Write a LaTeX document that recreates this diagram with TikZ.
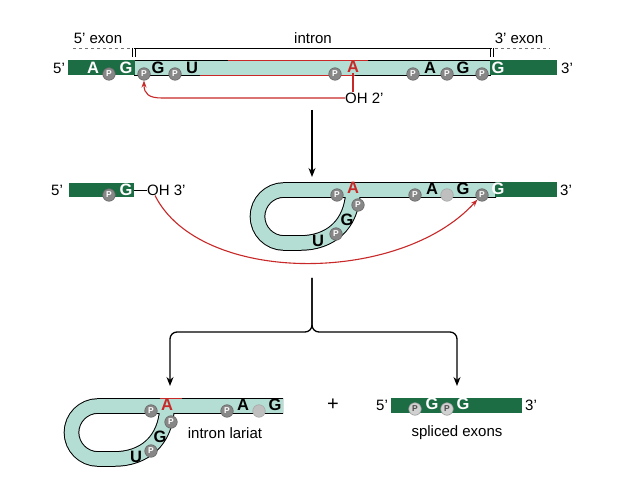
\documentclass[tikz,border=0pt]{standalone}
\usepackage{fontspec}
\setmainfont{Liberation Sans}
\usetikzlibrary{arrows.meta}
\definecolor{dkg}{RGB}{28,108,68}
\definecolor{lig}{RGB}{180,222,212}
\definecolor{rd}{RGB}{200,40,40}
\definecolor{pg}{RGB}{135,135,135}
\begin{document}
\begin{tikzpicture}[x=1pt,y=-1pt,
 lab/.style={font=\fontsize{15}{17}\selectfont, inner sep=0pt},
 wl/.style={font=\bfseries\fontsize{16.5}{17}\selectfont, text=white, inner sep=0pt},
 bl/.style={font=\bfseries\fontsize{16.5}{17}\selectfont, text=black, inner sep=0pt},
 rl/.style={font=\bfseries\fontsize{16.5}{17}\selectfont, text=rd, inner sep=0pt},
 pc/.style={circle, fill=pg, draw=black!60, line width=0.6pt, inner sep=0pt, minimum size=12.5pt, text=white, font=\bfseries\fontsize{8.5}{9}\selectfont},
 pcf/.style={pc, fill=black!25, draw=black!35},
 pcs/.style={pc, fill=black!18, draw=black!40, text=black!70},
 tube/.style={draw=black, line width=1pt, double=lig, double distance=13.6pt},
 arr/.style={line width=1.3pt, -{Stealth[length=9pt,width=7pt]}},
 rarr/.style={draw=rd, line width=1.1pt, -{Stealth[length=7pt,width=5pt]}},
 rline/.style={draw=rd, line width=0.9pt},
]
\useasboundingbox (0,0) rectangle (638,478);
\fill[white] (0,0) rectangle (638,478);

% ---------- top row ----------
\draw[line width=0.8pt] (134,48) -- (492,48);
\draw[line width=0.8pt] (132.5,48) -- (132.5,57) (135.5,48) -- (135.5,57);
\draw[line width=0.8pt] (490.5,48) -- (490.5,57) (493.5,48) -- (493.5,57);
\draw[dashed, black!55, line width=0.8pt] (73,48) -- (131,48);
\draw[dashed, black!55, line width=0.8pt] (495,48) -- (550,48);
\node[lab] (ex5) at (98,38) {5’ exon};
\node[lab] (intr) at (313,38) {intron};
\node[lab] (ex3) at (519,38) {3’ exon};

\draw[tube] (134,68) -- (491,68);
\fill[dkg] (68,60.5) rectangle (135,75.5);
\fill[dkg] (490,60.5) rectangle (557,75.5);
\draw[rline] (200,75.6) -- (355,75.6);
\draw[rline] (228,60.4) -- (368,60.4);
\node[lab] (t5) at (59,68) {5’};
\node[lab] (t3) at (567,68) {3’};
\node[wl] (ta1) at (93,68) {A};
\node[pc] (tp1) at (109,74) {P};
\node[wl] (tg1) at (126,68) {G};
\node[pc] (tp2) at (144,74) {P};
\node[bl] (tg2) at (158,68) {G};
\node[pc] (tp3) at (175,74) {P};
\node[bl] (tu) at (192,68) {U};
\node[pc] (tp4) at (335,74) {P};
\node[rl] (ta) at (353,67) {A};
\node[pc] (tp5) at (413,74) {P};
\node[bl] (ta2) at (430,68) {A};
\node[pc] (tp6) at (447,74) {P};
\node[bl] (tg3) at (463,68) {G};
\node[pc] (tp7) at (482,74) {P};
\node[wl] (tg4) at (498,68) {G};
\node[lab, anchor=west] (oh2) at (345,98) {OH 2’};
\draw[rline, line width=1.1pt] (ta.south) -- (ta.south |- oh2.north);
\draw[rarr] (oh2.west) -- (162,98) .. controls (149,98) and (144,94) .. (tp2.south);

\coordinate (d1s) at (312,110);
\coordinate (d1e) at (312,177);
\draw[arr] (d1s) -- (d1e);

% ---------- middle row ----------
\fill[dkg] (69,183) rectangle (134,197);
\node[lab] (m5) at (57,190) {5’};
\node[pc] (mp0) at (109,195) {P};
\node[wl] (mg0) at (126,190) {G};
\node[lab, anchor=west] (oh3) at (147,190) {OH 3’};
\draw[line width=0.9pt] (134,190) -- (oh3.west);

\draw[tube] (496,190) -- (284,190) .. controls (269.4,190) and (257.5,201.9) .. (257.5,216.5)
  .. controls (257.5,231.1) and (269.4,243) .. (284,243) -- (300,243)
  .. controls (330,243) and (352,225) .. (353,191);
\fill[dkg] (495,182.5) rectangle (557,197.5);
\node[lab] (m3) at (566,190) {3’};
\node[pc] (mp1) at (337,195) {P};
\node[rl] (ma) at (353,188) {A};
\node[pc] (mp2) at (358,205) {P};
\node[bl] (mg1) at (347,220) {G};
\node[pc] (mp3) at (336,234) {P};
\node[bl] (mu) at (318,241) {U};
\node[pc] (mp4) at (415,195) {P};
\node[bl] (ma2) at (432,189) {A};
\node[pcf] (mp5) at (447,195) {};
\node[bl] (mg2) at (463,189) {G};
\node[pc] (mp6) at (482,195) {P};
\node[wl] (mg3) at (498,189) {G};

\draw[rarr] ([xshift=8pt]oh3.south west) .. controls (200,285) and (400,285) .. (mp6.south west);

\coordinate (d2s) at (312,278);
\coordinate (dl) at (170,386);
\coordinate (dr) at (457,386);
\draw[arr, rounded corners=7pt] (d2s) -- (312,332) -- (dl |- 0,332) -- (dl);
\draw[arr, rounded corners=7pt] (d2s) -- (312,332) -- (dr |- 0,332) -- (dr);

% ---------- bottom row ----------
\begin{scope}[shift={(-186,216)}]
\draw[tube] (469,190) -- (284,190) .. controls (269.4,190) and (257.5,201.9) .. (257.5,216.5)
  .. controls (257.5,231.1) and (269.4,243) .. (284,243) -- (300,243)
  .. controls (330,243) and (352,225) .. (353,191);
\end{scope}
\draw[rline] (160,398.6) -- (182,398.6);
\node[pc] (bp1) at (151,411) {P};
\node[rl] (ba) at (167,405) {A};
\node[pc] (bp2) at (171,422) {P};
\node[bl] (bg1) at (160,437) {G};
\node[pc] (bp3) at (151,451) {P};
\node[bl] (bu) at (136,457) {U};
\node[pc] (bp4) at (227,411) {P};
\node[bl] (ba2) at (243,405) {A};
\node[pcf] (bp5) at (259,411) {};
\node[bl] (bg2) at (275,405) {G};
\node[lab] (lar) at (225,433) {intron lariat};

\node[font=\fontsize{20}{20}\selectfont, inner sep=0pt] (plus) at (333,405) {+};

\node[lab] (s5) at (382,405) {5’};
\fill[dkg] (391,398) rectangle (522,413);
\node[lab] (s3) at (531,405) {3’};
\node[pcs] (sp1) at (415,409) {P};
\node[wl] (sg1) at (432,404) {G};
\node[pcs] (sp2) at (447,409) {P};
\node[wl] (sg2) at (463,404) {G};
\node[lab] (spl) at (457,433) {spliced exons};
\end{tikzpicture}
\end{document}
